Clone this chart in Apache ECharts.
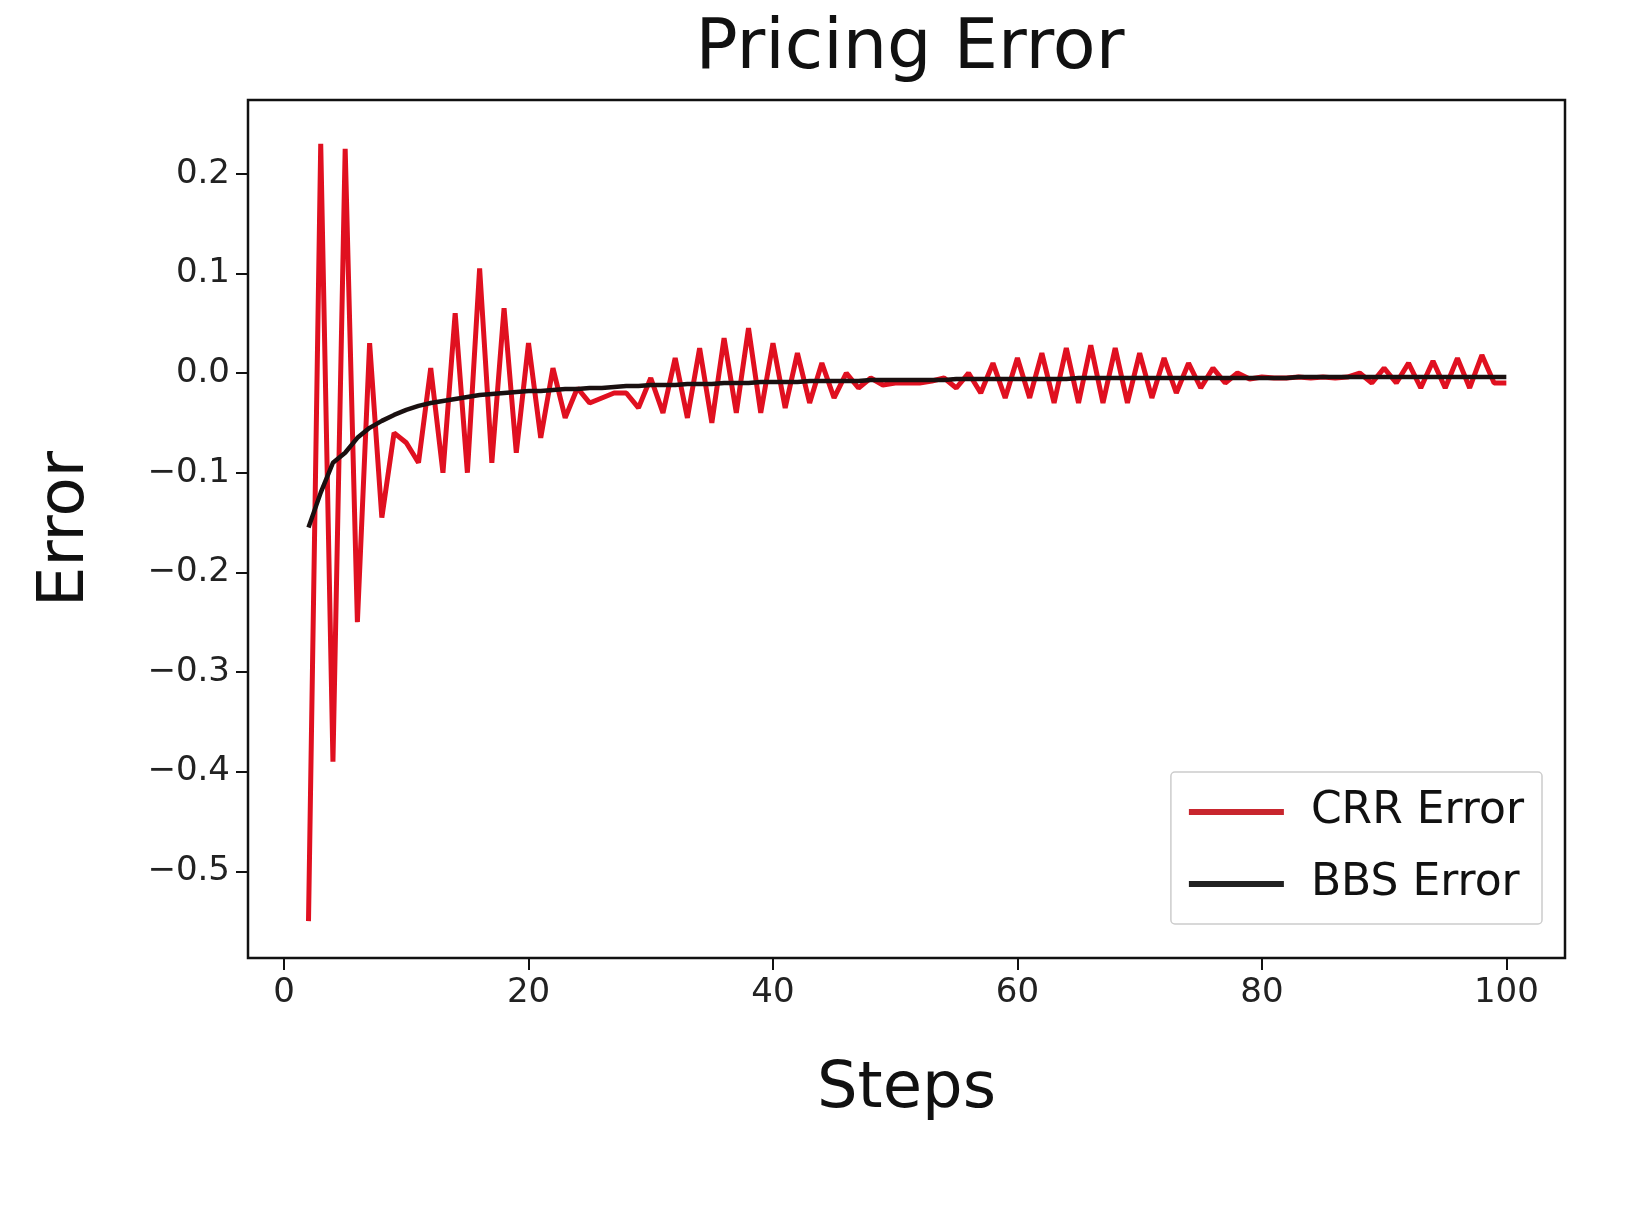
<!DOCTYPE html>
<html><head><meta charset="utf-8">
<script src="https://cdn.jsdelivr.net/npm/echarts@6/dist/echarts.min.js"></script>
<style>html,body{margin:0;padding:0;background:#fff}#c{width:1645px;height:1211px}</style>
</head><body><div id="c"></div>
<script>
const steps = [];
for (let n = 2; n <= 100; n++) steps.push(n);
const crrError = [
-0.55,0.23,-0.39,0.225,-0.25,0.03,-0.145,-0.06,-0.07,-0.09,
0.005,-0.1,0.06,-0.1,0.105,-0.09,0.065,-0.08,0.03,-0.065,
0.005,-0.045,-0.015,-0.03,-0.025,-0.02,-0.02,-0.035,-0.005,-0.04,
0.015,-0.045,0.025,-0.05,0.035,-0.04,0.045,-0.04,0.03,-0.035,
0.02,-0.03,0.01,-0.025,0.0,-0.015,-0.005,-0.012,-0.01,-0.01,
-0.01,-0.008,-0.005,-0.015,0.0,-0.02,0.01,-0.025,0.015,-0.025,
0.02,-0.03,0.025,-0.03,0.028,-0.03,0.025,-0.03,0.02,-0.025,
0.015,-0.02,0.01,-0.015,0.005,-0.01,0.0,-0.006,-0.004,-0.005,
-0.005,-0.004,-0.005,-0.004,-0.005,-0.004,0.0,-0.01,0.005,-0.01,
0.01,-0.015,0.012,-0.015,0.015,-0.015,0.018,-0.01,-0.01
];
const bbsError = [
-0.155,-0.12,-0.09,-0.08,-0.065,-0.055,-0.048,-0.042,-0.037,-0.033,
-0.03,-0.028,-0.026,-0.024,-0.022,-0.021,-0.02,-0.019,-0.018,-0.018,
-0.017,-0.016,-0.016,-0.015,-0.015,-0.014,-0.013,-0.013,-0.012,-0.012,
-0.012,-0.011,-0.011,-0.011,-0.010,-0.010,-0.010,-0.009,-0.009,-0.009,
-0.009,-0.008,-0.008,-0.008,-0.008,-0.008,-0.007,-0.007,-0.007,-0.007,
-0.007,-0.007,-0.007,-0.006,-0.006,-0.006,-0.006,-0.006,-0.006,-0.006,
-0.006,-0.006,-0.006,-0.005,-0.005,-0.005,-0.005,-0.005,-0.005,-0.005,
-0.005,-0.005,-0.005,-0.005,-0.005,-0.005,-0.005,-0.005,-0.005,-0.005,
-0.005,-0.004,-0.004,-0.004,-0.004,-0.004,-0.004,-0.004,-0.004,-0.004,
-0.004,-0.004,-0.004,-0.004,-0.004,-0.004,-0.004,-0.004,-0.004
];
const xTicks = [0,20,40,60,80,100];
const yTicks = [-0.5,-0.4,-0.3,-0.2,-0.1,0.0,0.1,0.2];
const fmtY = v => (v < 0 ? '\u2212' : '') + Math.abs(v).toFixed(1);
const F = 'DejaVu Sans';
const chart = echarts.init(document.getElementById('c'));
chart.setOption({
  animation:false,
  backgroundColor:'#fff',
  title:{text:'Pricing Error',left:905,top:10,textAlign:'center',textStyle:{fontFamily:F,fontSize:70,fontWeight:'normal',color:'#111'}},
  grid:{left:248,right:80,top:100,bottom:253,show:true,borderColor:'#111',borderWidth:2.5},
  legend:{right:103,top:772,orient:'vertical',itemWidth:95,itemHeight:6,itemGap:28,padding:[18,18,18,18],
    borderColor:'#ccc',borderWidth:1.5,borderRadius:4,
    textStyle:{fontFamily:F,fontSize:44,color:'#111',padding:[0,0,0,22]},
    data:[{name:'CRR Error',icon:'rect'},{name:'BBS Error',icon:'rect'}]},
  xAxis:{type:'value',min:-2.95,max:104.8,name:'Steps',nameLocation:'middle',nameGap:100,
    nameTextStyle:{fontFamily:F,fontSize:64,color:'#111'},
    splitLine:{show:false},axisLine:{show:false,onZero:false},
    axisTick:{show:true,length:12,inside:false,customValues:xTicks,lineStyle:{color:'#111',width:2}},
    axisLabel:{customValues:xTicks,fontFamily:F,fontSize:34,color:'#222',margin:18}},
  yAxis:{type:'value',min:-0.587,max:0.274,name:'Error',nameLocation:'middle',nameGap:150,
    nameTextStyle:{fontFamily:F,fontSize:64,color:'#111'},
    splitLine:{show:false},axisLine:{show:false,onZero:false},
    axisTick:{show:true,length:12,inside:false,customValues:yTicks,lineStyle:{color:'#111',width:2}},
    axisLabel:{customValues:yTicks,formatter:fmtY,fontFamily:F,fontSize:34,color:'#222',margin:18}},
  series:[
    {name:'CRR Error',type:'line',showSymbol:false,data:steps.map((s,i)=>[s,crrError[i]]),
     color:'#c8262e',lineStyle:{color:'#e01020',width:5}},
    {name:'BBS Error',type:'line',showSymbol:false,data:steps.map((s,i)=>[s,bbsError[i]]),
     color:'#222',lineStyle:{color:'#1a1010',width:4.5}}
  ]
});
</script></body></html>
